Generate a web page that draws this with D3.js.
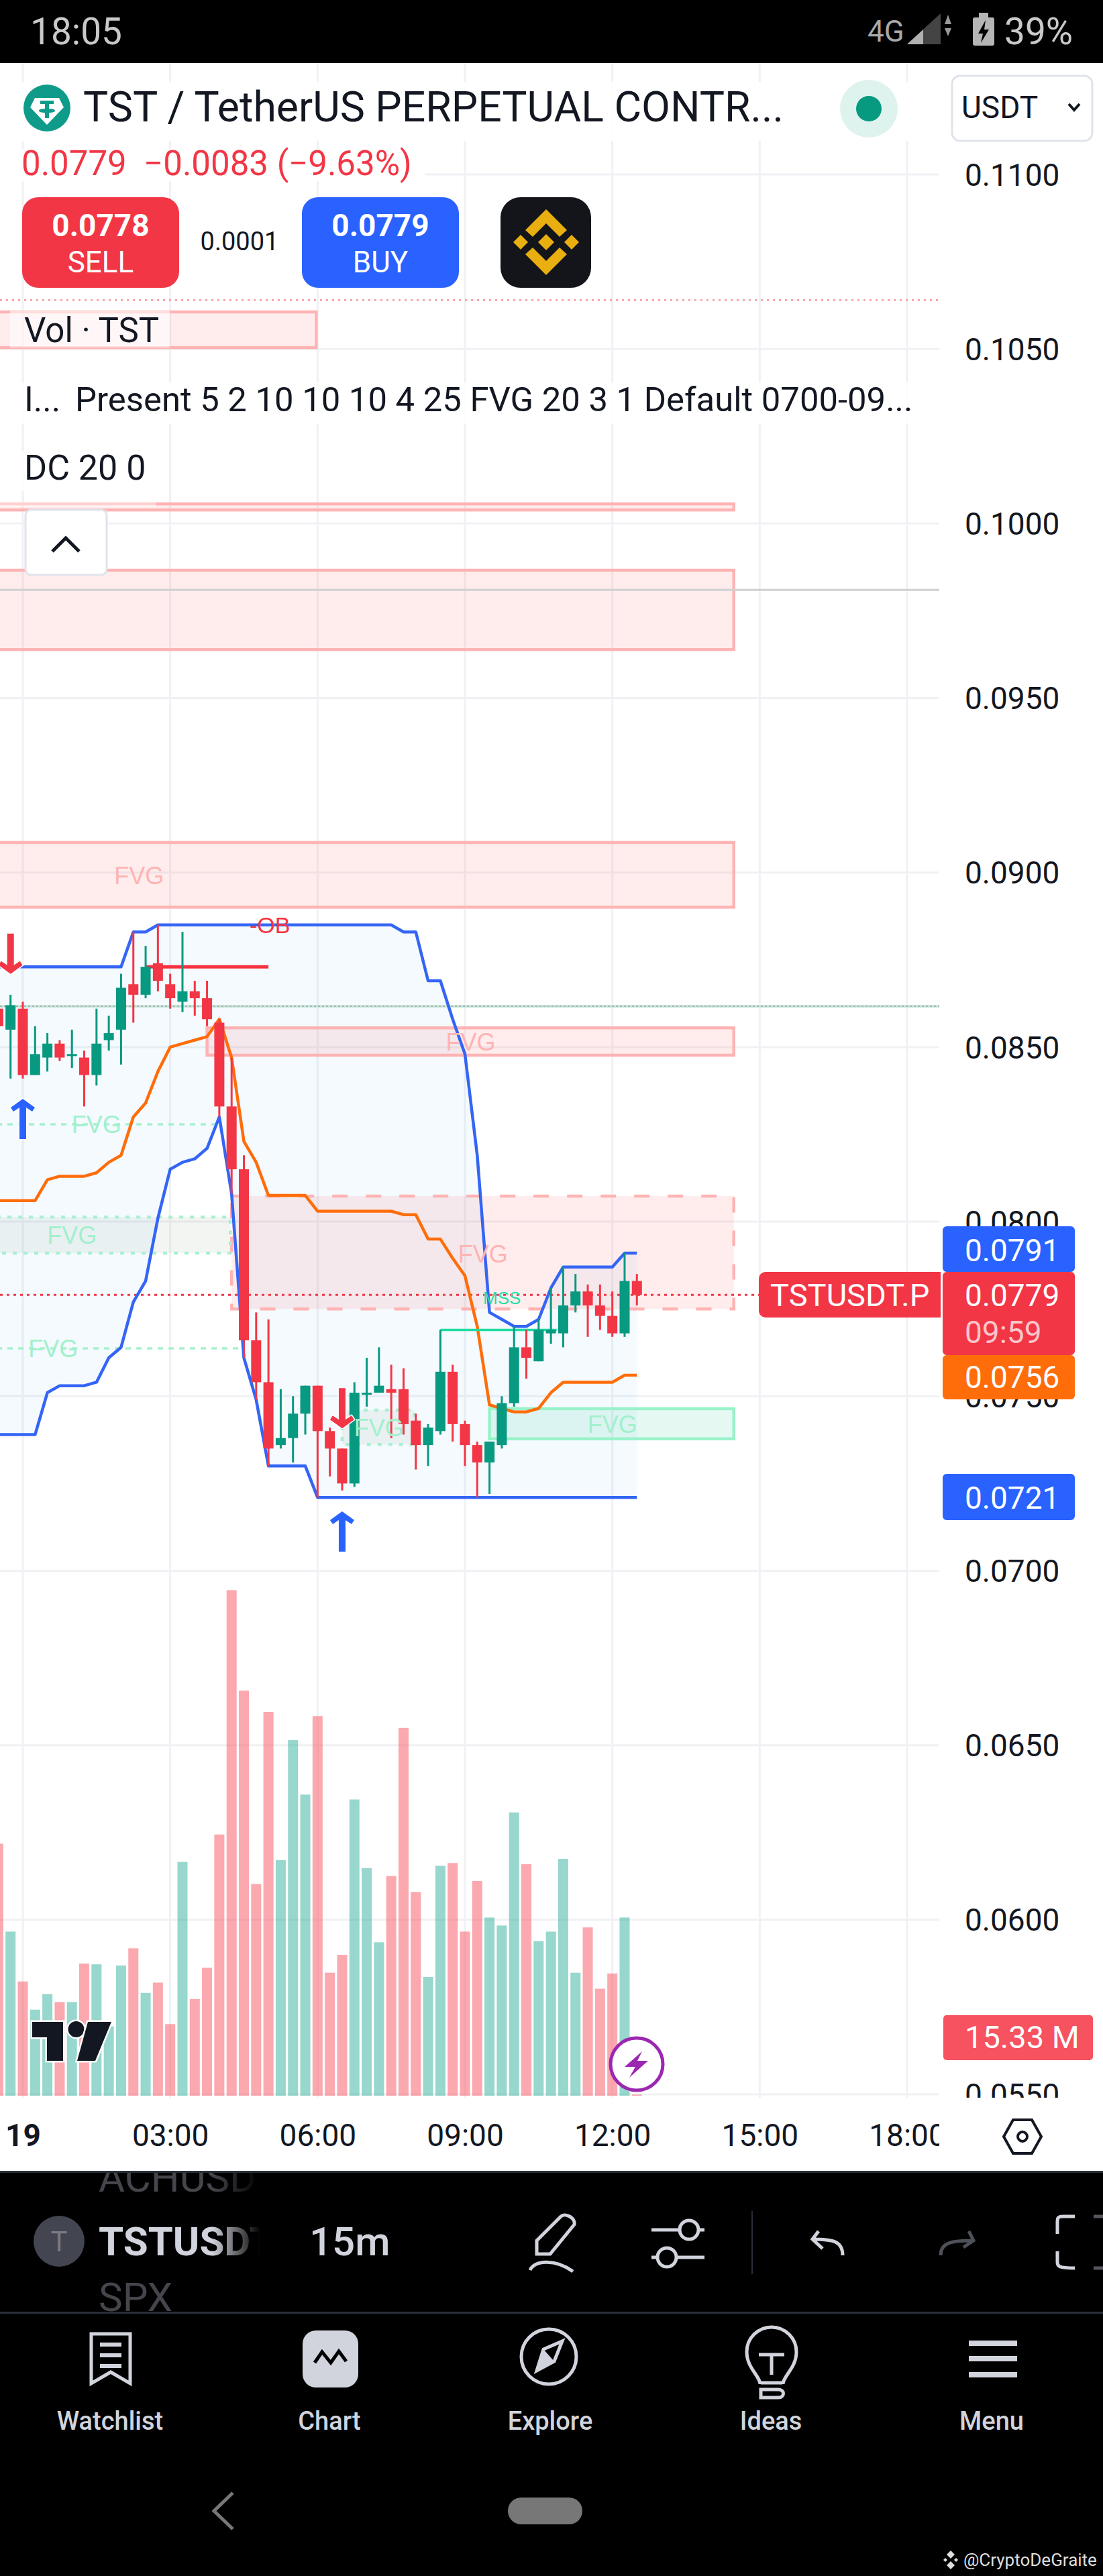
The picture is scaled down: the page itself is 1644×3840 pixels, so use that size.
<!DOCTYPE html>
<html>
<head>
<meta charset="utf-8">
<title>TSTUSDT.P 15m</title>
<script src="https://cdn.jsdelivr.net/npm/d3@7"></script>
<style>
	html, body { margin: 0; padding: 0; background: #000; }
	svg { display: block; }
	text { font-family: Roboto, sans-serif; white-space: pre; }
	.tag text, .tag { font-family: "Liberation Sans", sans-serif; }
</style>
</head>
<body>
<script>
// bars run from two bars before midnight on the 19th up to the live bar
var firstBar = -2;
var opens = [.0861,.0855,.0861,.0842,.0847,.0851,.0848,.0847,.0842,.0852,.0855,.0868,.0865,.0874,.0868,.0863,.0866,.0864,.0857,.0833,.0815,.0766,.0754,.0736,.0738,.0745,.0753,.0740,.0735,.0725,.0751,.0751,.0752,.0752,.0743,.0736,.0740,.0757,.0742,.0736,.0731,.0736,.0748,.0764,.0760,.0768,.0768,.0776,.0780,.0776,.0773,.0768,.0783];
var highs = [.0863,.0865,.0863,.0856,.0854,.0852,.0855,.0849,.0861,.0859,.0871,.0883,.0879,.0885,.0871,.0883,.0869,.0869,.0858,.0847,.0819,.0774,.0772,.0752,.0750,.0753,.0753,.0741,.0735,.0754,.0761,.0764,.0759,.0758,.0745,.0742,.0769,.0759,.0743,.0737,.0737,.0750,.0770,.0769,.0772,.0781,.0787,.0785,.0782,.0782,.0780,.0791,.0785];
var lows = [.0853,.0841,.0841,.0842,.0843,.0846,.0844,.0833,.0839,.0849,.0845,.0857,.0864,.0866,.0861,.0860,.0859,.0856,.0830,.0808,.0761,.0749,.0730,.0735,.0731,.0739,.0721,.0727,.0723,.0724,.0747,.0751,.0738,.0739,.0729,.0730,.0739,.0737,.0730,.0721,.0722,.0735,.0747,.0755,.0760,.0765,.0764,.0774,.0767,.0769,.0767,.0767,.0776];
var closes = [.0856,.0862,.0842,.0848,.0851,.0847,.0848,.0842,.0851,.0854,.0867,.0865,.0873,.0869,.0864,.0866,.0864,.0858,.0833,.0815,.0766,.0754,.0735,.0738,.0745,.0753,.0740,.0735,.0725,.0751,.0751,.0753,.0751,.0742,.0736,.0741,.0757,.0742,.0736,.0731,.0737,.0748,.0764,.0761,.0769,.0769,.0776,.0780,.0776,.0773,.0768,.0783,.0779];
var volumes = [66.2,43.1,30.0,22.6,26.7,24.6,24.6,34.7,34.5,18.2,34.2,38.7,27.0,29.7,18.8,61.4,25.4,33.6,68.6,132.8,106.4,55.6,100.8,61.9,93.4,79.1,99.7,32.3,37.0,77.8,59.8,40.3,57.7,96.6,53.5,31.2,60.4,61.1,43.1,56.4,46.8,44.7,74.4,60.8,40.6,43.1,62.2,32.3,44.2,28.1,32.1,46.8,0.3];

// donchian channel
var dcUpper = [.0873,.0873,.0873,.0873,.0873,.0873,.0873,.0873,.0873,.0873,.0873,.0883,.0883,.0885,.0885,.0885,.0885,.0885,.0885,.0885,.0885,.0885,.0885,.0885,.0885,.0885,.0885,.0885,.0885,.0885,.0885,.0885,.0885,.0883,.0883,.0869,.0869,.0858,.0848,.0819,.0774,.0772,.0770,.0770,.0772,.0781,.0787,.0787,.0787,.0787,.0787,.0791,.0791];
var dcLower = [.0739,.0739,.0739,.0739,.0751,.0753,.0753,.0753,.0754,.0761,.0764,.0777,.0783,.0801,.0815,.0817,.0818,.0821,.0830,.0808,.0761,.0749,.0730,.0730,.0730,.0730,.0721,.0721,.0721,.0721,.0721,.0721,.0721,.0721,.0721,.0721,.0721,.0721,.0721,.0721,.0721,.0721,.0721,.0721,.0721,.0721,.0721,.0721,.0721,.0721,.0721,.0721,.0721];
var dcBasis = [.0806,.0806,.0806,.0806,.0812,.0813,.0813,.0813,.0814,.0817,.0819,.0830,.0834,.0843,.0850,.0851,.0852,.0853,.0858,.0847,.0823,.0817,.08075,.08075,.08075,.08075,.0803,.0803,.0803,.0803,.0803,.0803,.0803,.0802,.0802,.0795,.0795,.07895,.07845,.0770,.07475,.07465,.07455,.07455,.07465,.0751,.0754,.0754,.0754,.0754,.0754,.0756,.0756];

// axes
var priceTicks = [.11,.105,.1,.095,.09,.085,.08,.075,.07,.065,.06,.055];
var hourTicks = [0,3,6,9,12,15,18];

// [first bar, last bar, top price, bottom price]
var redBoxes = [[-3,24,.1061,.1050],[-3,58,.1006,.10035],[-3,58,.0987,.09635],[-3,58,.0909,.08897],[15,58,.08559,.08473]];
var redDashBox = [17,58,.08077,.07746];
var greenBox = [38,58,.07468,.07374];
var greenDashBoxes = [[-3,17,.08017,.07906],[26,32,.07464,.07358]];
var greenDashLines = [[-3,16,.08279],[-3,18,.07637]];
// [bar, price, text] for the small chart labels
var redLabels = [[9.5,.08992,'FVG'],[36.5,.08516,'FVG'],[37.5,.07908,'FVG']];
var greenLabels = [[6,.08279,'FVG'],[4,.07961,'FVG'],[2.5,.07637,'FVG'],[29,.07410,'FVG'],[48,.07420,'FVG']];
var obLine = [10,20,.0873];
var mssLine = [34,43.5,.0769];
// [bar, price at the arrow tip]
var downArrows = [[-1,.0871],[26,.07408]];
var upArrows = [[0,.08352],[26,.0717]];

var lastPrice = .0779, prevHighLine = .1064, greyLine = .0981, tealLine = .08617;
var volumeLabel = 15.33;

var WIDTH = 1644, HEIGHT = 3840, PANE_RIGHT = 1400, PANE_TOP = 94, PANE_BOTTOM = 3127;
var RED = '#f23645', GREEN = '#089981', BLUE = '#2962ff', ORANGE = '#ff6d0a', INK = '#131722', LIGHT = '#d1d4dc';

var y = d3.scaleLinear().domain([.11, .055]).range([260, 3122]);
var x = d3.scaleUtc().domain([Date.UTC(2025, 1, 19, 0), Date.UTC(2025, 1, 19, 18)]).range([34, 1352]);
var volY = d3.scaleLinear().domain([0, 140]).range([3124, 2329.5]);

function barTime(i) { return Date.UTC(2025, 1, 19, 0, i * 15); }
function barX(i) { return x(barTime(i)); }

var bars = d3.range(opens.length).map(function(n) {
	return { i: firstBar + n, o: opens[n], h: highs[n], l: lows[n], c: closes[n], v: volumes[n], up: closes[n] >= opens[n], hi: dcUpper[n], lo: dcLower[n], mid: dcBasis[n] };
});

var svg = d3.select('body').append('svg').attr('width', WIDTH).attr('height', HEIGHT);
svg.append('rect').attr('width', WIDTH).attr('height', HEIGHT).attr('fill', '#fff');

var defs = svg.append('defs');
defs.append('clipPath').attr('id', 'pane').append('rect').attr('x', 0).attr('y', PANE_TOP).attr('width', PANE_RIGHT).attr('height', PANE_BOTTOM - PANE_TOP);
defs.append('clipPath').attr('id', 'priceAxis').append('rect').attr('x', PANE_RIGHT).attr('y', PANE_TOP).attr('width', 244).attr('height', PANE_BOTTOM - PANE_TOP);
defs.append('clipPath').attr('id', 'timeAxis').append('rect').attr('x', 0).attr('y', PANE_BOTTOM).attr('width', PANE_RIGHT).attr('height', 100);
defs.append('clipPath').attr('id', 'toolbar').append('rect').attr('x', 0).attr('y', 3239).attr('width', 388).attr('height', 208);
var fade = defs.append('linearGradient').attr('id', 'tickerFade').attr('gradientUnits', 'userSpaceOnUse').attr('x1', 147).attr('x2', 388).attr('y1', 0).attr('y2', 0);
fade.append('stop').attr('offset', '0.7').attr('stop-color', LIGHT);
fade.append('stop').attr('offset', '1').attr('stop-color', LIGHT).attr('stop-opacity', 0);
var fadeDim = defs.append('linearGradient').attr('id', 'tickerFadeDim').attr('gradientUnits', 'userSpaceOnUse').attr('x1', 147).attr('x2', 388).attr('y1', 0).attr('y2', 0);
fadeDim.append('stop').attr('offset', '0.7').attr('stop-color', '#44464c');
fadeDim.append('stop').attr('offset', '1').attr('stop-color', '#44464c').attr('stop-opacity', 0);

var pane = svg.append('g').attr('clip-path', 'url(#pane)');

// ------------------------ GRID ------------------------
pane.selectAll('.gx').data(hourTicks).enter().append('line')
	.attr('x1', function(h) { return barX(h * 4); }).attr('x2', function(h) { return barX(h * 4); })
	.attr('y1', PANE_TOP).attr('y2', PANE_BOTTOM)
	.attr('stroke', '#f0f1f4').attr('stroke-width', 3);
pane.selectAll('.gy').data(priceTicks).enter().append('line')
	.attr('x1', 0).attr('x2', PANE_RIGHT)
	.attr('y1', y).attr('y2', y)
	.attr('stroke', '#f0f1f4').attr('stroke-width', 3);

// ------------------------ VOLUME ------------------------
pane.selectAll('.vol').data(bars).enter().append('rect')
	.attr('x', function(d) { return barX(d.i) - 7.5; })
	.attr('width', 15)
	.attr('y', function(d) { return volY(d.v); })
	.attr('height', function(d) { return volY(0) - volY(d.v); })
	.attr('fill', function(d) { return d.up ? 'rgba(34,171,148,.47)' : 'rgba(247,82,95,.5)'; });

// ------------------------ DONCHIAN FILL ------------------------
var band = d3.area()
	.x(function(d) { return barX(d.i); })
	.y0(function(d) { return y(d.lo); })
	.y1(function(d) { return y(d.hi); });
pane.append('path').datum(bars).attr('d', band).attr('fill', 'rgba(33,150,243,.05)');

// ------------------------ FVG BOXES ------------------------
function drawBox(b, stroke, fill, dash) {
	var sel = pane.append('rect')
		.attr('x', barX(b[0]))
		.attr('y', y(b[2]) + 2)
		.attr('width', barX(b[1]) - barX(b[0]) - 2)
		.attr('height', y(b[3]) - y(b[2]) - 4)
		.attr('fill', fill).attr('stroke', stroke).attr('stroke-width', 4.5);
	if (dash) sel.attr('stroke-dasharray', dash);
}
redBoxes.forEach(function(b) { drawBox(b, '#ffb3b3', 'rgba(255,82,82,.1)'); });
drawBox(redDashBox, '#ffb3b3', 'rgba(255,82,82,.1)', '23 27');
drawBox(greenBox, '#99f2c9', 'rgba(0,200,130,.1)');
greenDashBoxes.forEach(function(b) { drawBox(b, '#a8f0cf', 'rgba(120,140,120,.09)', '6 10'); });
greenDashLines.forEach(function(l) {
	pane.append('line').attr('x1', barX(l[0])).attr('x2', barX(l[1])).attr('y1', y(l[2])).attr('y2', y(l[2]))
		.attr('stroke', '#a8f0cf').attr('stroke-width', 3.5).attr('stroke-dasharray', '8 8');
});

// ------------------------ PRICE LINES ------------------------
pane.append('line').attr('x1', 0).attr('x2', PANE_RIGHT).attr('y1', y(greyLine)).attr('y2', y(greyLine))
	.attr('stroke', '#cfd0d2').attr('stroke-width', 3);
pane.append('line').attr('x1', 0).attr('x2', PANE_RIGHT).attr('y1', y(tealLine)).attr('y2', y(tealLine))
	.attr('stroke', '#c4e6e4').attr('stroke-width', 4);
pane.append('line').attr('x1', 0).attr('x2', PANE_RIGHT).attr('y1', y(tealLine)).attr('y2', y(tealLine))
	.attr('stroke', '#b7b58e').attr('stroke-width', 2).attr('stroke-dasharray', '3 3');
pane.append('line').attr('x1', 0).attr('x2', PANE_RIGHT).attr('y1', y(prevHighLine)).attr('y2', y(prevHighLine))
	.attr('stroke', '#f7a0a8').attr('stroke-width', 3).attr('stroke-dasharray', '3 6');
pane.append('line').attr('x1', 0).attr('x2', 1131).attr('y1', y(lastPrice)).attr('y2', y(lastPrice))
	.attr('stroke', RED).attr('stroke-width', 3).attr('stroke-dasharray', '4 6');

// ------------------------ DONCHIAN LINES ------------------------
function channelLine(key, color) {
	var line = d3.line()
		.x(function(d) { return barX(d.i); })
		.y(function(d) { return y(d[key]); });
	pane.append('path').datum(bars).attr('d', line)
		.attr('fill', 'none').attr('stroke', color).attr('stroke-width', 4.5).attr('stroke-linejoin', 'round');
}
channelLine('lo', '#3465f5');
channelLine('hi', '#3465f5');
channelLine('mid', ORANGE);

// ------------------------ MSS / OB ------------------------
pane.append('line').attr('x1', barX(mssLine[0])).attr('x2', barX(mssLine[1])).attr('y1', y(mssLine[2])).attr('y2', y(mssLine[2]))
	.attr('stroke', '#1fdca0').attr('stroke-width', 3.5);
pane.append('line').attr('x1', barX(obLine[0])).attr('x2', barX(obLine[1])).attr('y1', y(obLine[2])).attr('y2', y(obLine[2]))
	.attr('stroke', '#f7323f').attr('stroke-width', 5);

// ------------------------ CANDLES ------------------------
var candles = pane.selectAll('.candle').data(bars).enter().append('g')
	.attr('fill', function(d) { return d.up ? GREEN : RED; });
candles.append('rect')
	.attr('x', function(d) { return barX(d.i) - 1.5; })
	.attr('width', 3)
	.attr('y', function(d) { return y(d.h); })
	.attr('height', function(d) { return y(d.l) - y(d.h); });
candles.append('rect')
	.attr('x', function(d) { return barX(d.i) - 7.5; })
	.attr('width', 15)
	.attr('y', function(d) { return y(Math.max(d.o, d.c)); })
	.attr('height', function(d) { return Math.max(3, Math.abs(y(d.o) - y(d.c))); });

// ------------------------ LABELS INSIDE THE PANE ------------------------
function chartLabel(l, color) {
	pane.append('text').attr('class', 'tag')
		.attr('x', barX(l[0])).attr('y', y(l[1]) + 13)
		.attr('text-anchor', 'middle')
		.attr('font-size', 36).attr('fill', color).text(l[2]);
}
redLabels.forEach(function(l) { chartLabel(l, '#ffb3b3'); });
greenLabels.forEach(function(l) { chartLabel(l, '#a2f0cd'); });
pane.append('text').attr('class', 'tag').attr('x', 372).attr('y', 1391).attr('font-size', 34).attr('fill', '#f7323f').text('-OB');
pane.append('text').attr('class', 'tag').attr('x', 720).attr('y', 1944).attr('font-size', 26).attr('fill', '#22dfa8').text('MSS');

// ------------------------ SIGNAL ARROWS ------------------------
var arrowShape = 'M0,0L-18,-13L-14,-19L-5,-13L-5,-60L5,-60L5,-13L14,-19L18,-13Z';
downArrows.forEach(function(a) {
	pane.append('path').attr('d', arrowShape)
		.attr('transform', 'translate(' + barX(a[0]) + ',' + y(a[1]) + ')')
		.attr('fill', RED).attr('stroke', '#fff').attr('stroke-width', 3).attr('paint-order', 'stroke');
});
upArrows.forEach(function(a) {
	pane.append('path').attr('d', arrowShape)
		.attr('transform', 'translate(' + barX(a[0]) + ',' + y(a[1]) + ') scale(1,-1)')
		.attr('fill', BLUE).attr('stroke', '#fff').attr('stroke-width', 3).attr('paint-order', 'stroke');
});

// ------------------------ TV LOGO + BOLT ------------------------
var tv = pane.append('g').attr('fill', INK).attr('stroke', '#fff').attr('stroke-width', 5).attr('paint-order', 'stroke');
tv.append('path').attr('d', 'M48,3014H94V3072H70V3037H48Z');
tv.append('circle').attr('cx', 113.5).attr('cy', 3025).attr('r', 12);
tv.append('path').attr('d', 'M131,3014H166L142,3072H115Z');
pane.append('circle').attr('cx', 949).attr('cy', 3077).attr('r', 39).attr('fill', '#fff').attr('stroke', '#9c27b0').attr('stroke-width', 5);
pane.append('path').attr('d', 'M957,3058L931,3081H947L938,3097L966,3072H950Z').attr('fill', '#9c27b0');

// ------------------------ PRICE AXIS ------------------------
var priceAxis = svg.append('g')
	.attr('clip-path', 'url(#priceAxis)')
	.attr('transform', 'translate(0,0)')
	.append('g')
	.attr('transform', 'translate(1438,0)')
	.call(d3.axisRight(y).tickValues(priceTicks).tickSize(0).tickPadding(0).tickFormat(d3.format('.4f')));
priceAxis.select('.domain').remove();
priceAxis.selectAll('text').attr('font-family', 'Roboto').attr('font-size', 46).attr('fill', INK).attr('dy', '0.35em');

// tags stacked on the axis
function priceTag(top, bottom, color, lines) {
	svg.append('rect').attr('x', 1405).attr('y', top).attr('width', 197).attr('height', bottom - top).attr('rx', 6).attr('fill', color);
	lines.forEach(function(l) {
		svg.append('text').attr('x', 1438).attr('y', l[0]).attr('font-size', 46).attr('fill', l[2] || '#fff').text(l[1]);
	});
}
priceTag(1828, 1896, BLUE, [[1880, '0.0791']]);
priceTag(2020, 2086, ORANGE, [[2069, '0.0756']]);
priceTag(1896, 2020, RED, [[1947, '0.0779'], [2002, '09:59', '#fbc5ca']]);
priceTag(2197, 2266, BLUE, [[2249, '0.0721']]);

svg.append('path').attr('d', 'M1402,1896H1141a10,10 0 0 0 -10,10V1954a10,10 0 0 0 10,10H1402Z').attr('fill', RED);
svg.append('text').attr('x', 1148).attr('y', 1947).attr('font-size', 47).attr('fill', '#fff').text('TSTUSDT.P');

svg.append('rect').attr('x', 1406).attr('y', volY(volumeLabel) - 33).attr('width', 223).attr('height', 67).attr('rx', 5).attr('fill', '#f7525f');
svg.append('text').attr('x', 1438).attr('y', volY(volumeLabel) + 16).attr('font-size', 47).attr('fill', '#fff').text(volumeLabel + ' M');

// ------------------------ TIME AXIS ------------------------
var timeAxis = svg.append('g').attr('clip-path', 'url(#timeAxis)').append('g')
	.attr('transform', 'translate(0,3166)')
	.call(d3.axisBottom(x)
		.tickValues(hourTicks.map(function(h) { return new Date(barTime(h * 4)); }))
		.tickSize(0).tickPadding(0)
		.tickFormat(function(d) { return d.getUTCHours() === 0 ? '19' : d3.utcFormat('%H:%M')(d); }));
timeAxis.select('.domain').remove();
timeAxis.selectAll('text').attr('font-family', 'Roboto').attr('font-size', 46).attr('fill', INK)
	.attr('dy', '0.71em')
	.attr('font-weight', function(d) { return d.getUTCHours() === 0 ? 700 : 400; });

// settings hexagon
svg.append('path').attr('d', 'M1510,3160H1538L1552,3185L1538,3210H1510L1496,3185Z').attr('fill', 'none').attr('stroke', INK).attr('stroke-width', 4);
svg.append('circle').attr('cx', 1524).attr('cy', 3185).attr('r', 7).attr('fill', 'none').attr('stroke', INK).attr('stroke-width', 4);

// ------------------------ HEADER (sits over the grid) ------------------------
svg.append('rect').attr('x', 0).attr('y', 122).attr('width', 1400).attr('height', 88).attr('fill', '#fff').attr('opacity', 0.9);
svg.append('rect').attr('x', 0).attr('y', 222).attr('width', 634).attr('height', 48).attr('fill', '#fff').attr('opacity', 0.9);
svg.append('rect').attr('x', 15).attr('y', 463).attr('width', 238).attr('height', 55).attr('fill', '#fff').attr('opacity', 0.55);
svg.append('rect').attr('x', 15).attr('y', 570).attr('width', 1350).attr('height', 62).attr('fill', '#fff').attr('opacity', 0.85);
svg.append('rect').attr('x', 15).attr('y', 672).attr('width', 215).attr('height', 60).attr('fill', '#fff').attr('opacity', 0.85);
svg.append('rect').attr('x', 0).attr('y', 749).attr('width', 232).attr('height', 7).attr('fill', '#fff').attr('opacity', 0.4);

// status bar
svg.append('rect').attr('width', WIDTH).attr('height', PANE_TOP).attr('fill', '#000');
svg.append('text').attr('x', 45).attr('y', 66).attr('font-size', 55).attr('fill', '#c9c9c9').text('18:05');
svg.append('text').attr('x', 1293).attr('y', 62).attr('font-size', 44).attr('fill', '#a8a8a8').text('4G');
svg.append('path').attr('d', 'M1352,66L1402,20V66Z').attr('fill', '#444');
svg.append('path').attr('d', 'M1352,66L1376,44V66Z').attr('fill', '#b0b0b0');
svg.append('path').attr('d', 'M1408,36L1413,22L1418,36ZM1408,42H1418L1413,54Z').attr('fill', '#999');
svg.append('rect').attr('x', 1450).attr('y', 26).attr('width', 32).attr('height', 42).attr('rx', 3).attr('fill', '#b5b5b5');
svg.append('rect').attr('x', 1459).attr('y', 19).attr('width', 14).attr('height', 8).attr('fill', '#b5b5b5');
svg.append('path').attr('d', 'M1469,30L1458,50H1465L1462,64L1474,44H1467Z').attr('fill', '#000');
svg.append('text').attr('x', 1497).attr('y', 66).attr('font-size', 55).attr('fill', '#c9c9c9').text('39%');

// title row
svg.append('circle').attr('cx', 70).attr('cy', 161).attr('r', 35).attr('fill', '#0f9b8a');
svg.append('path').attr('d', 'M52,146H88L95,160L70,186L45,160Z').attr('fill', '#fff');
svg.append('path').attr('d', 'M60,150H80V155H73V162C78,162 82,163 82,165C82,167 78,168 73,168V176H67V168C62,168 58,167 58,165C58,163 62,162 67,162V155H60Z').attr('fill', '#0f9b8a');
svg.append('text').attr('x', 124).attr('y', 181).attr('font-size', 62.5).attr('fill', INK).text('TST / TetherUS PERPETUAL CONTR...');
svg.append('circle').attr('cx', 1295).attr('cy', 162).attr('r', 43).attr('fill', '#dff3ee');
svg.append('circle').attr('cx', 1295).attr('cy', 162).attr('r', 19).attr('fill', GREEN);
svg.append('rect').attr('x', 1419).attr('y', 113).attr('width', 209).attr('height', 97).attr('rx', 12).attr('fill', '#fff').attr('stroke', '#e0e3eb').attr('stroke-width', 3);
svg.append('text').attr('x', 1433).attr('y', 176).attr('font-size', 46).attr('fill', INK).text('USDT');
svg.append('path').attr('d', 'M1593,155L1601,164L1609,155').attr('fill', 'none').attr('stroke', INK).attr('stroke-width', 4);

svg.append('text').attr('x', 32).attr('y', 261).attr('font-size', 51).attr('fill', RED).text('0.0779  \u22120.0083 (\u22129.63%)');

// trade buttons
function tradeButton(left, color, price, side) {
	svg.append('rect').attr('x', left).attr('y', 294).attr('width', 234).attr('height', 135).attr('rx', 24).attr('fill', color);
	svg.append('text').attr('x', left + 117).attr('y', 352).attr('text-anchor', 'middle').attr('font-size', 46).attr('font-weight', 700).attr('fill', '#fff').text(price);
	svg.append('text').attr('x', left + 117).attr('y', 406).attr('text-anchor', 'middle').attr('font-size', 44).attr('fill', '#fff').text(side);
}
tradeButton(33, RED, '0.0778', 'SELL');
tradeButton(450, BLUE, '0.0779', 'BUY');
svg.append('text').attr('x', 357).attr('y', 373).attr('text-anchor', 'middle').attr('font-size', 38).attr('fill', INK).text('0.0001');

// binance badge
svg.append('rect').attr('x', 746).attr('y', 294).attr('width', 135).attr('height', 135).attr('rx', 30).attr('fill', '#14151a');
var bnb = svg.append('g').attr('transform', 'translate(814,361)').attr('fill', '#e9ae0f');
bnb.append('path').attr('d', 'M0,-49L31,-18L20,-8L0,-28L-20,-8L-31,-18Z');
bnb.append('path').attr('d', 'M0,49L31,18L20,8L0,28L-20,8L-31,18Z');
bnb.append('path').attr('d', 'M0,-12L12,0L0,12L-12,0Z');
bnb.append('path').attr('d', 'M-38,-11L-27,0L-38,11L-49,0Z');
bnb.append('path').attr('d', 'M38,-11L49,0L38,11L27,0Z');

// indicator legends
svg.append('text').attr('x', 36).attr('y', 510).attr('font-size', 51).attr('fill', INK).text('Vol \u00b7 TST');
svg.append('text').attr('x', 36).attr('y', 613).attr('font-size', 51).attr('fill', INK).text('I...');
svg.append('text').attr('x', 112).attr('y', 613).attr('font-size', 50.8).attr('fill', INK).text('Present 5 2 10 10 10 4 25 FVG 20 3 1 Default 0700-09...');
svg.append('text').attr('x', 36).attr('y', 715).attr('font-size', 52).attr('fill', INK).text('DC 20 0');

svg.append('rect').attr('x', 38).attr('y', 760).attr('width', 121).attr('height', 97).attr('rx', 8).attr('fill', '#fff').attr('stroke', '#e0e3eb').attr('stroke-width', 3);
svg.append('path').attr('d', 'M78,822L98,802L118,822').attr('fill', 'none').attr('stroke', INK).attr('stroke-width', 5);

// ------------------------ BOTTOM APP CHROME ------------------------
svg.append('rect').attr('x', 0).attr('y', 3236).attr('width', WIDTH).attr('height', 604).attr('fill', '#000');
svg.append('rect').attr('x', 0).attr('y', 3236).attr('width', WIDTH).attr('height', 3).attr('fill', '#2a2e39');
svg.append('rect').attr('x', 0).attr('y', 3446).attr('width', WIDTH).attr('height', 3).attr('fill', '#2a2e39');

var tickers = svg.append('g').attr('clip-path', 'url(#toolbar)');
tickers.append('text').attr('x', 147).attr('y', 3267).attr('font-size', 60).attr('fill', 'url(#tickerFadeDim)').text('ACHUSD');
tickers.append('text').attr('x', 147).attr('y', 3445).attr('font-size', 60).attr('fill', '#44464c').text('SPX');
tickers.append('text').attr('x', 147).attr('y', 3362).attr('font-size', 60).attr('font-weight', 700).attr('fill', 'url(#tickerFade)').text('TSTUSDT');
svg.append('circle').attr('cx', 88).attr('cy', 3341).attr('r', 38).attr('fill', '#434651');
svg.append('text').attr('x', 88).attr('y', 3356).attr('text-anchor', 'middle').attr('font-size', 42).attr('fill', '#787b86').text('T');
svg.append('text').attr('x', 461).attr('y', 3362).attr('font-size', 60).attr('font-weight', 500).attr('fill', LIGHT).text('15m');

var tools = svg.append('g').attr('fill', 'none').attr('stroke', LIGHT).attr('stroke-width', 5);
tools.append('path').attr('d', 'M800,3360V3340L836,3304C842,3298 858,3306 856,3316L820,3360Z');
tools.append('path').attr('d', 'M790,3384C796,3370 826,3366 854,3386');
tools.append('path').attr('d', 'M971,3324H1050M971,3365H1050');
tools.append('circle').attr('cx', 1027).attr('cy', 3324).attr('r', 14).attr('fill', '#000');
tools.append('circle').attr('cx', 994).attr('cy', 3365).attr('r', 14).attr('fill', '#000');
tools.append('path').attr('d', 'M1220,3326L1211,3338L1226,3352M1211,3338C1240,3338 1256,3340 1256,3362');
svg.append('path').attr('d', 'M1444,3326L1451,3340L1436,3350M1451,3340C1420,3340 1402,3342 1402,3362').attr('fill', 'none').attr('stroke', '#4f5159').attr('stroke-width', 5);
svg.append('rect').attr('x', 1120).attr('y', 3296).attr('width', 2).attr('height', 94).attr('fill', '#2a2e39');
tools.append('path').attr('d', 'M1602,3304H1585C1577,3304 1576,3306 1576,3312V3330M1576,3356V3372C1576,3378 1577,3381 1602,3381');
svg.append('path').attr('d', 'M1630,3304H1644M1630,3381H1644').attr('fill', 'none').attr('stroke', '#55575e').attr('stroke-width', 5);

// bottom nav
var navLabels = ['Watchlist', 'Chart', 'Explore', 'Ideas', 'Menu'];
var navCenters = [164, 491, 820, 1149, 1478];
navLabels.forEach(function(t, k) {
	svg.append('text').attr('x', navCenters[k]).attr('y', 3622).attr('text-anchor', 'middle').attr('font-size', 38).attr('font-weight', 500).attr('fill', LIGHT).text(t);
});
var nav = svg.append('g').attr('fill', 'none').attr('stroke', LIGHT).attr('stroke-width', 5);
nav.append('path').attr('d', 'M136,3479H194V3553L165,3536L136,3553Z');
nav.append('path').attr('d', 'M149,3495H181M149,3511H181M149,3527H181').attr('stroke-width', 6);
svg.append('rect').attr('x', 451).attr('y', 3474).attr('width', 83).attr('height', 85).attr('rx', 20).attr('fill', LIGHT);
svg.append('path').attr('d', 'M469,3522L480,3506L493,3522L505,3505L516,3520').attr('fill', 'none').attr('stroke', '#000').attr('stroke-width', 5);
nav.append('circle').attr('cx', 818).attr('cy', 3513).attr('r', 41);
nav.append('path').attr('d', 'M800,3534L810,3502L838,3490L826,3520Z');
svg.append('path').attr('d', 'M800,3534L810,3502L826,3520Z').attr('fill', LIGHT);
nav.append('path').attr('d', 'M1133,3554C1133,3542 1113,3530 1113,3506A37,37 0 0 1 1187,3506C1187,3530 1167,3542 1167,3554');
nav.append('path').attr('d', 'M1131,3510H1169M1150,3510V3540');
nav.append('path').attr('d', 'M1134,3552H1166M1134,3562H1160C1170,3562 1170,3574 1160,3574H1134Z');
svg.append('path').attr('d', 'M1444,3493H1516M1444,3516H1516M1444,3540H1516').attr('fill', 'none').attr('stroke', LIGHT).attr('stroke-width', 8);

// android nav
svg.append('path').attr('d', 'M347,3716L319,3743L347,3770').attr('fill', 'none').attr('stroke', '#777').attr('stroke-width', 5);
svg.append('rect').attr('x', 757).attr('y', 3723).attr('width', 111).attr('height', 40).attr('rx', 20).attr('fill', '#777');

// watermark
svg.append('text').attr('x', 1436).attr('y', 3825).attr('font-size', 26).attr('fill', '#ddd').text('@CryptoDeGraite');
var mark = svg.append('g').attr('transform', 'translate(1417,3816)').attr('fill', '#ddd');
mark.append('path').attr('d', 'M0,-14L6,-8L0,-2L-6,-8Z');
mark.append('path').attr('d', 'M0,14L6,8L0,2L-6,8Z');
mark.append('path').attr('d', 'M-8,-3L-5,0L-8,3L-11,0Z');
mark.append('path').attr('d', 'M8,-3L11,0L8,3L5,0Z');
</script>
</body>
</html>
